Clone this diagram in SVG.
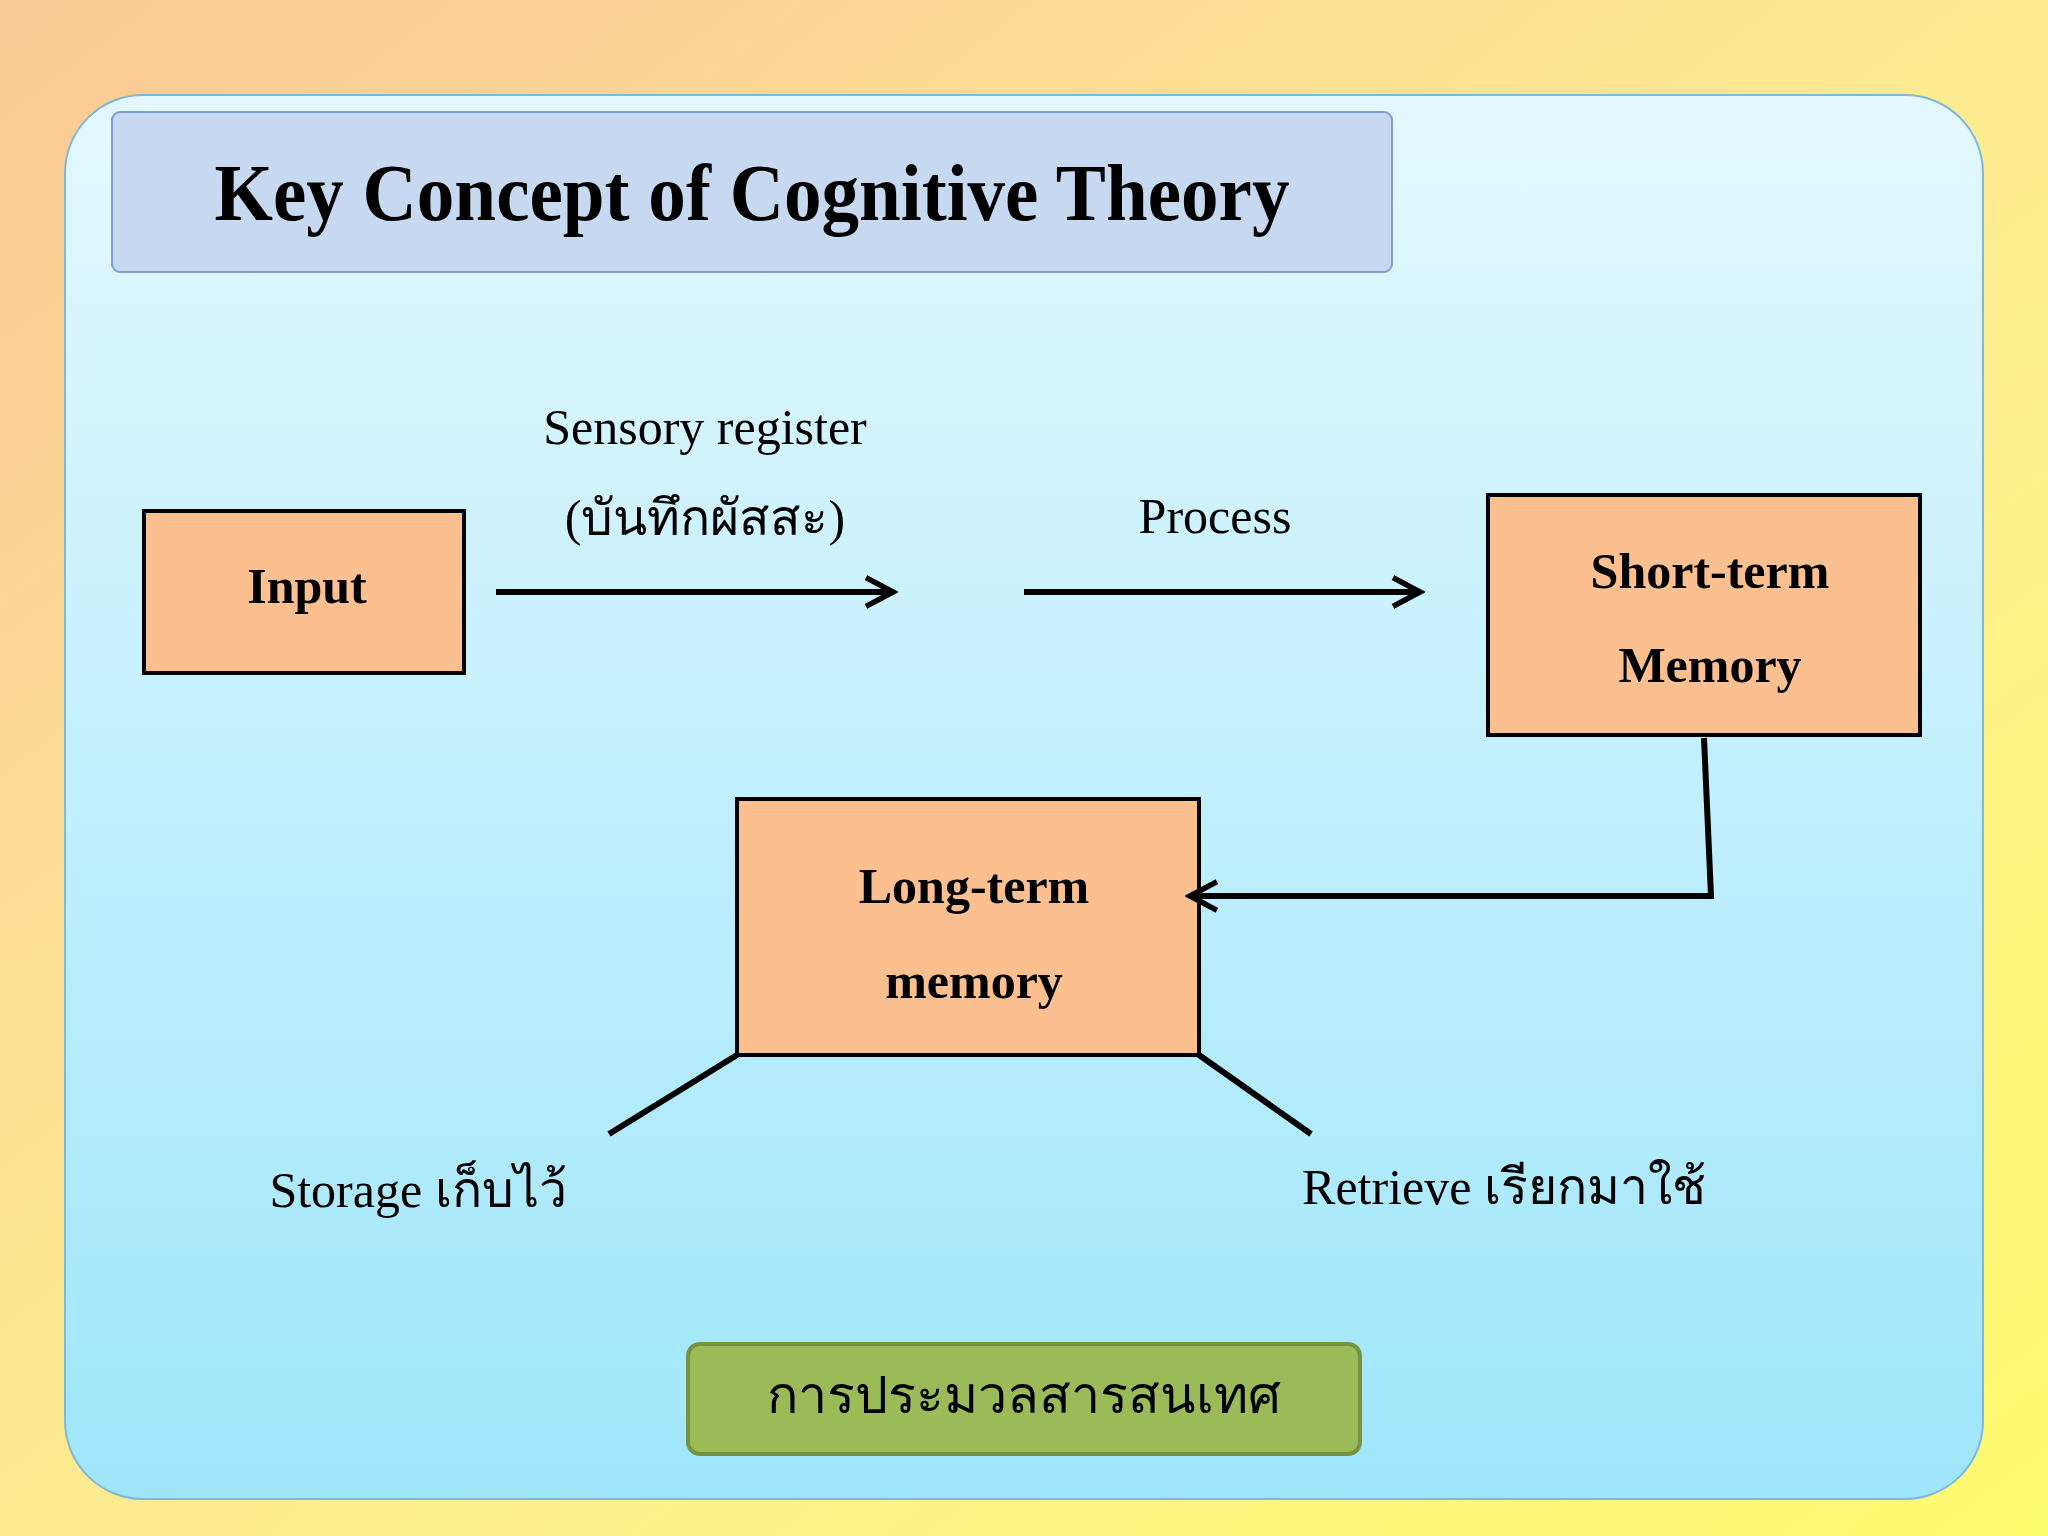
<svg xmlns="http://www.w3.org/2000/svg" width="2048" height="1536" viewBox="0 0 2048 1536">
<defs>
<linearGradient id="bg" x1="0" y1="0" x2="1" y2="1"><stop offset="0" stop-color="#fbc996"/><stop offset="0.6" stop-color="#fdf08f"/><stop offset="1" stop-color="#fdfb6e"/></linearGradient>
<linearGradient id="panel" x1="0" y1="0" x2="0" y2="1"><stop offset="0" stop-color="#e3f8fe"/><stop offset="1" stop-color="#9fe6fb"/></linearGradient>
<marker id="ah" viewBox="0 0 20 20" refX="17" refY="10" markerWidth="6" markerHeight="6" markerUnits="strokeWidth" orient="auto"><path d="M2,2 L17,10 L2,18" fill="none" stroke="#000" stroke-width="3"/></marker>
</defs>
<style>
.box{fill:#fbbf90;stroke:#000;stroke-width:4}
.b{font-family:"Liberation Serif","DejaVu Serif",serif;font-weight:bold;font-size:50px;text-anchor:middle}
.t{font-family:"Liberation Serif","DejaVu Serif",serif;font-size:50px;text-anchor:middle}
.c{fill:none;stroke:#000;stroke-width:6}
</style>
<rect width="2048" height="1536" fill="url(#bg)"/>
<rect x="65" y="95" width="1918" height="1404" rx="78" fill="url(#panel)" stroke="#7fb8d8" stroke-width="2"/>
<g id="title"><rect x="112" y="112" width="1280" height="160" rx="8" fill="#c6d9f0" stroke="#7f9fd0" stroke-width="2"/><text x="752" y="220" class="b" style="font-size:80px" textLength="1075" lengthAdjust="spacingAndGlyphs">Key Concept of Cognitive Theory</text></g>
<g id="input"><rect class="box" x="144" y="511" width="320" height="162"/><text x="307" y="603" class="b">Input</text></g>
<g id="stm"><rect class="box" x="1488" y="495" width="432" height="240"/><text x="1710" y="588" class="b">Short-term</text><text x="1710" y="682" class="b">Memory</text></g>
<g id="ltm"><rect class="box" x="737" y="799" width="462" height="256"/><text x="974" y="903" class="b">Long-term</text><text x="974" y="998" class="b">memory</text></g>
<g id="connectors">
<line class="c" x1="496" y1="592" x2="893" y2="592" marker-end="url(#ah)"/>
<line class="c" x1="1024" y1="592" x2="1420" y2="592" marker-end="url(#ah)"/>
<polyline class="c" points="1704,738 1711,896 1190,896" marker-end="url(#ah)"/>
<line class="c" x1="737" y1="1055" x2="609" y2="1134"/>
<line class="c" x1="1199" y1="1055" x2="1311" y2="1134"/>
</g>
<g id="labels">
<text x="705" y="444" class="t">Sensory register</text>
<text x="705" y="535" class="t">(บันทึกผัสสะ)</text>
<text x="1215" y="533" class="t">Process</text>
<text x="418" y="1207" class="t">Storage เก็บไว้</text>
<text x="1504" y="1204" class="t">Retrieve เรียกมาใช้</text>
</g>
<g id="footer"><rect x="688" y="1344" width="672" height="110" rx="12" fill="#9bbb59" stroke="#76923c" stroke-width="4"/><text x="1024" y="1413" class="t" style="font-size:52px">การประมวลสารสนเทศ</text></g>
</svg>
